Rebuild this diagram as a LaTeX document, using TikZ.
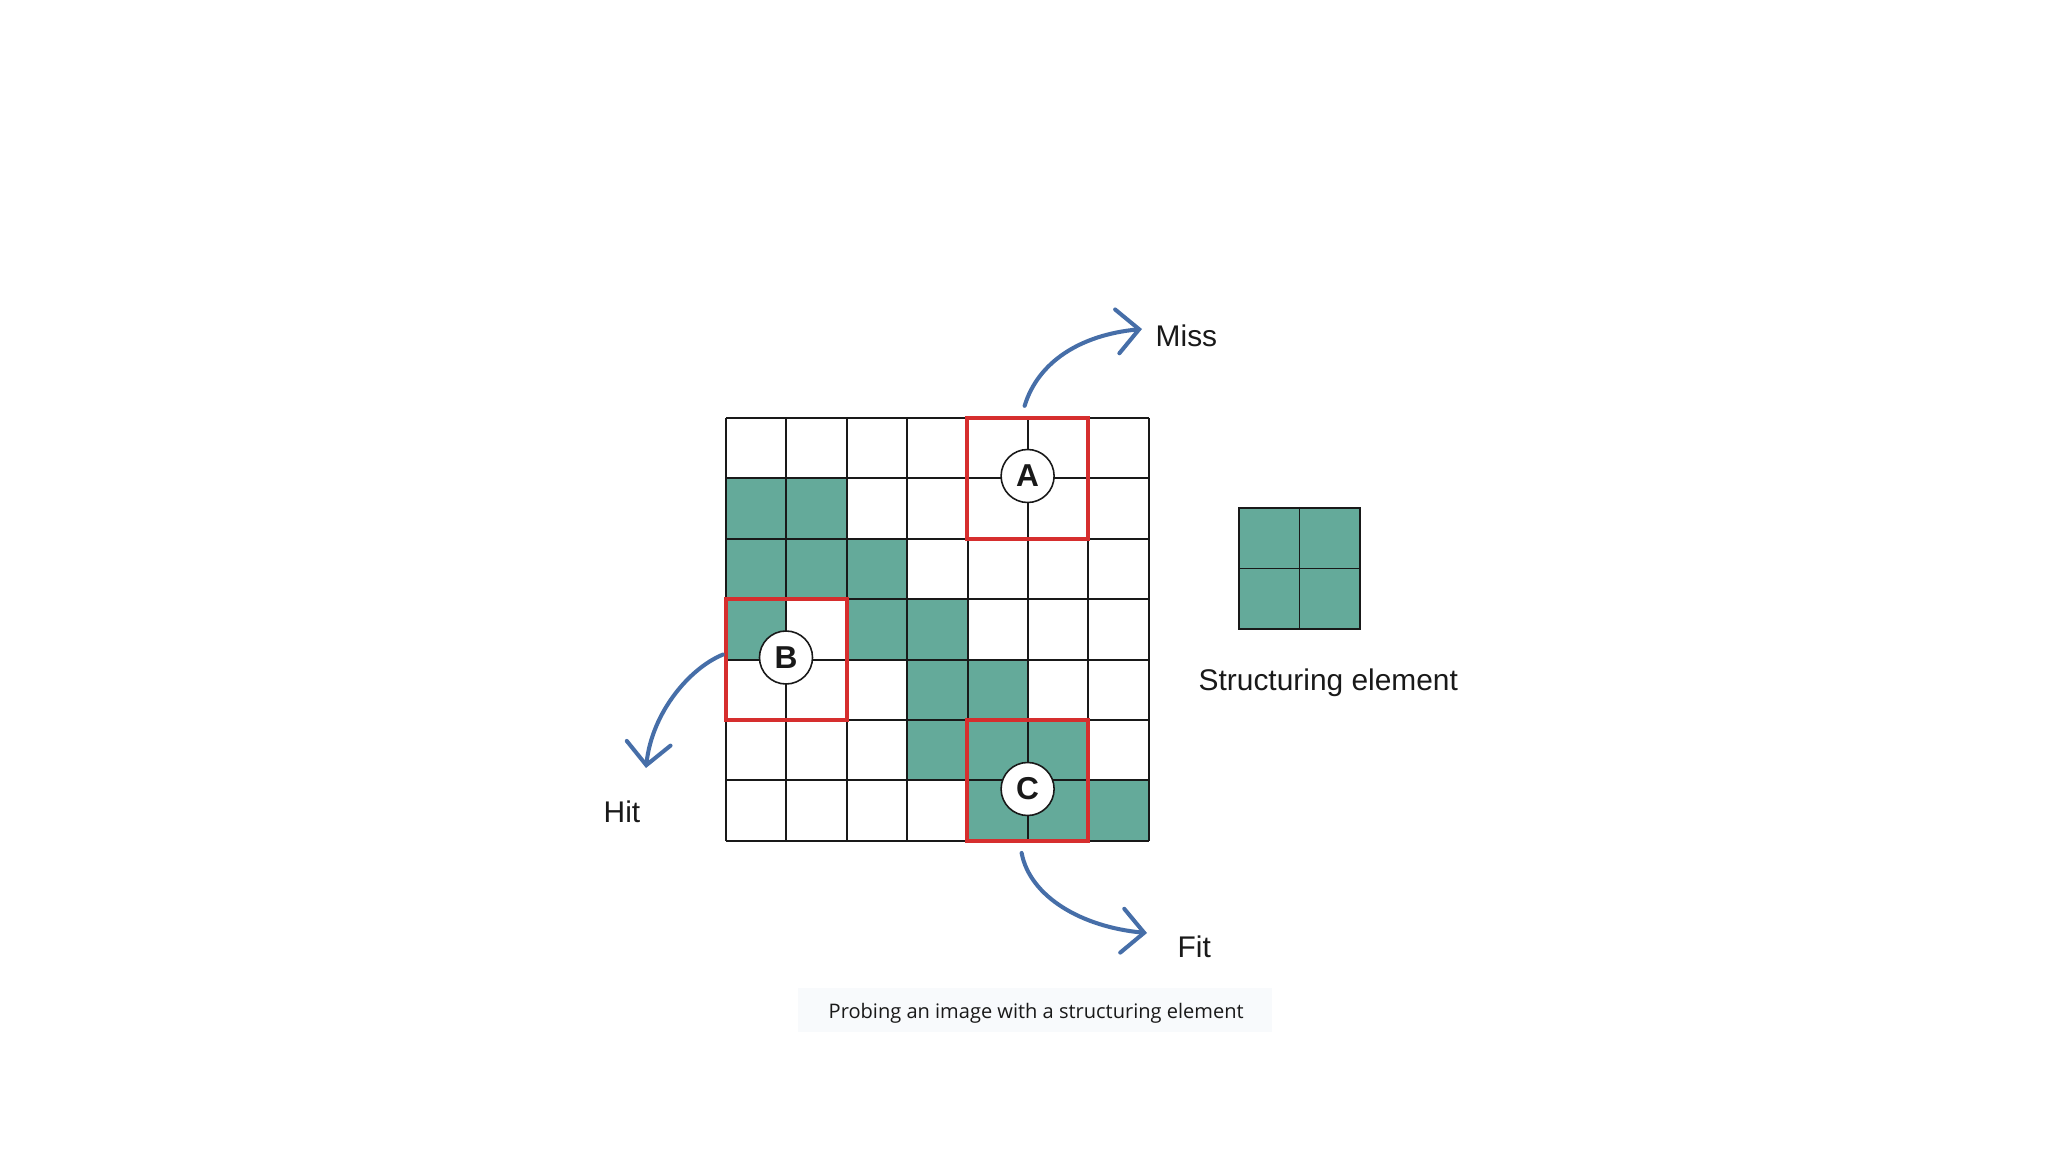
\documentclass[tikz,border=0pt]{standalone}
\usepackage{fontspec}
\setmainfont{Liberation Sans}
\newfontfamily\capfont{Open Sans}
\usetikzlibrary{arrows.meta,calc}
\definecolor{cellgreen}{RGB}{100,170,154}
\definecolor{boxred}{RGB}{214,46,46}
\definecolor{arrblue}{RGB}{70,110,168}
\definecolor{capbg}{RGB}{248,250,252}
\definecolor{ink}{RGB}{25,25,25}
\begin{document}
\begin{tikzpicture}[x=0.01cm,y=-0.01cm,
  gridline/.style={draw=ink,line width=0.55pt},
  probe/.style={draw=boxred,line width=1.2pt,minimum width=1.208cm,minimum height=1.208cm,inner sep=0pt},
  marker/.style={circle,draw=ink,fill=white,line width=0.45pt,minimum size=0.53cm,inner sep=0pt,text=ink,font=\fontsize{9}{9}\selectfont\bfseries},
  lbl/.style={anchor=base west,inner sep=0pt,text=ink,font=\fontsize{8.5}{10}\selectfont},
  arr/.style={draw=arrblue,line width=1.15pt,line cap=round,-{Straight Barb[length=0.22cm,width=0.44cm,line cap=round]}}]
\useasboundingbox (0,0) rectangle (2048,1152);
% image grid
\foreach \r/\c in {1/0,1/1,2/0,2/1,2/2,3/0,3/2,3/3,4/3,4/4,5/3,5/4,5/5,6/4,6/5,6/6}
  \fill[cellgreen] ({726+\c*60.4},{418+\r*60.4}) rectangle ++(60.4,60.4);
\foreach \k in {0,...,7} {
  \draw[gridline] ({726+\k*60.4},418) -- ++(0,422.8);
  \draw[gridline] (726,{418+\k*60.4}) -- ++(422.8,0);
}
% probes
\node[probe] (boxA) at (1027.6,478.4) {};
\node[probe] (boxB) at (786.4,659.6) {};
\node[probe] (boxC) at (1027.6,780.4) {};
\node[marker] (A) at (1027.6,476) {A};
\node[marker] (B) at (786,657.5) {B};
\node[marker] (C) at (1027.6,789) {C};
% labels
\node[lbl] (miss) at (1155,347) {Miss};
\node[lbl] (hit) at (603,822) {Hit};
\node[lbl] (fit) at (1177,957) {Fit};
\coordinate (missEnd) at (1142,329);
\coordinate (hitEnd) at (646,768);
\coordinate (fitEnd) at (1147,933);
% arrows
\draw[arr] ($(boxA.north)+(-3,-10)$) .. controls (1038,362) and (1080,335) .. (missEnd);
\draw[arr] ($(boxB.west)+(-1,-5)$) .. controls (690,668) and (652,712) .. (hitEnd);
\draw[arr] ($(boxC.south)+(-6,10)$) .. controls (1030,897) and (1082,927) .. (fitEnd);
% structuring element
\node[draw=ink,fill=cellgreen,line width=0.55pt,minimum width=1.21cm,minimum height=1.21cm,inner sep=0pt] (se) at (1299.5,568.5) {};
\draw[gridline] (se.north) -- (se.south);
\draw[gridline] (se.west) -- (se.east);
\node[lbl] (selabel) at (1198,690) {Structuring element};
% caption
\fill[capbg] (798,988) rectangle (1272,1032);
\node[anchor=base west,inner sep=0pt,text=ink,font=\capfont\fontsize{5.7}{7}\selectfont] (caption) at (828,1018) {Probing an image with a structuring element};
\end{tikzpicture}
\end{document}
